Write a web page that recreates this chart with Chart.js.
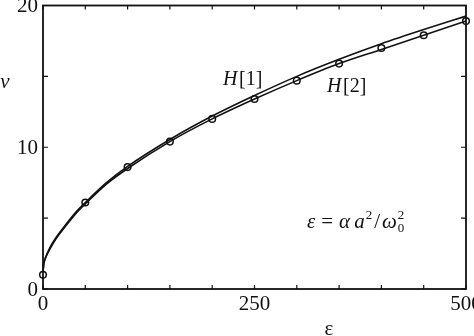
<!DOCTYPE html>
<html>
<head>
<meta charset="utf-8">
<script src="https://cdn.jsdelivr.net/npm/chart.js@4.4.1/dist/chart.umd.min.js"></script>
<style>
  html, body { margin: 0; padding: 0; background: #fff; }
  #wrap { width: 474px; height: 336px; }
</style>
</head>
<body>
<div id="wrap"><canvas id="nuChart" width="474" height="336"></canvas></div>
<script>
// curve H[1] (upper) and H[2] (lower)
var curveEps = [0, 1, 3, 8, 15, 25, 40, 50, 75, 100, 150, 200, 250, 300, 350, 400, 450, 500];
var curveH1 = [1.2, 1.8, 2.2, 2.9, 3.6, 4.4, 5.5, 6.1, 7.5, 8.65, 10.55, 12.2, 13.65, 15.0, 16.2, 17.3, 18.3, 19.25];
var curveH2 = [1.2, 1.8, 2.2, 2.8, 3.5, 4.3, 5.4, 6.0, 7.4, 8.5, 10.4, 12.0, 13.4, 14.7, 15.9, 16.9, 17.9, 18.9];

// circles
var pointEps = [0, 50, 100, 150, 200, 250, 300, 350, 400, 450, 500];
var pointNu = [1.0, 6.1, 8.6, 10.4, 12.0, 13.4, 14.7, 15.9, 17.0, 17.9, 18.9];

// ticks
var xTicks = [0, 50, 100, 150, 200, 250, 300, 350, 400, 450, 500];
var xLabels = [0, 250, 500];
var yTicks = [0, 5, 10, 15, 20];
var yLabels = [0, 10, 20];

function pairs(xs, ys) {
    return xs.map((x, i) => ({ x: x, y: ys[i] }));
}

var serif = '"Liberation Serif", "DejaVu Serif", serif';

var framePlugin = {
    id: 'frame',
    afterDraw: function (chart) {
        var ctx = chart.ctx;
        var a = chart.chartArea;
        var xs = chart.scales.x;
        var ys = chart.scales.y;
        ctx.save();
        ctx.strokeStyle = '#111';
        ctx.lineWidth = 1.8;
        ctx.strokeRect(a.left, a.top, a.right - a.left, a.bottom - a.top);

        // inward ticks
        ctx.lineWidth = 1.2;
        ctx.beginPath();
        xTicks.forEach(function (v) {
            var px = xs.getPixelForValue(v);
            ctx.moveTo(px, a.bottom); ctx.lineTo(px, a.bottom - 4);
            ctx.moveTo(px, a.top); ctx.lineTo(px, a.top + 4);
        });
        yTicks.forEach(function (v) {
            var py = ys.getPixelForValue(v);
            ctx.moveTo(a.left, py); ctx.lineTo(a.left + 5, py);
            ctx.moveTo(a.right, py); ctx.lineTo(a.right - 5, py);
        });
        ctx.stroke();

        // tick labels
        ctx.fillStyle = '#111';
        ctx.font = '21px ' + serif;
        ctx.textAlign = 'center';
        ctx.textBaseline = 'top';
        xLabels.forEach(function (v) {
            ctx.fillText(String(v), xs.getPixelForValue(v), a.bottom + 5);
        });
        ctx.textAlign = 'right';
        ctx.textBaseline = 'middle';
        yLabels.forEach(function (v) {
            ctx.fillText(String(v), a.left - 5, ys.getPixelForValue(v) + 1);
        });

        // axis titles
        ctx.textAlign = 'center';
        ctx.font = 'italic 21px ' + serif;
        ctx.fillText('\u03BD', 5, 82);
        ctx.font = '21px ' + serif;
        ctx.fillText('\u03B5', 329, 329);

        // curve labels
        ctx.textAlign = 'left';
        ctx.textBaseline = 'alphabetic';
        ctx.font = 'italic 20px ' + serif;
        ctx.fillText('H', 223, 85);
        ctx.fillText('H', 327, 92);
        ctx.font = '20px ' + serif;
        ctx.fillText('[1]', 239, 85);
        ctx.fillText('[2]', 343, 92);

        // formula
        var x = 307, y = 228;
        function put(txt, font, dx, dy) {
            ctx.font = font;
            ctx.fillText(txt, x, y + (dy || 0));
            x += ctx.measureText(txt).width + (dx || 0);
        }
        var it = 'italic 21px ' + serif, rm = '21px ' + serif, sm = '13px ' + serif;
        put('\u03B5', it, 6);
        put('=', rm, 6);
        put('\u03B1', it, 4);
        put('a', it, 1);
        put('2', sm, 2, -9);
        put('/', rm, 2);
        put('\u03C9', it, 1);
        ctx.font = sm;
        ctx.fillText('2', x, y - 9);
        ctx.fillText('0', x, y + 4);
        ctx.restore();
    }
};

var ctx = document.getElementById('nuChart').getContext('2d');

var myChart = new Chart(ctx, {
    type: 'scatter',
    data: {
        datasets: [
            {
                label: 'H[1]',
                data: pairs(curveEps, curveH1),
                showLine: true,
                borderColor: '#111',
                borderWidth: 1.6,
                pointRadius: 0,
                cubicInterpolationMode: 'monotone'
            },
            {
                label: 'H[2]',
                data: pairs(curveEps, curveH2),
                showLine: true,
                borderColor: '#111',
                borderWidth: 1.6,
                pointRadius: 0,
                cubicInterpolationMode: 'monotone'
            },
            {
                label: 'points',
                data: pairs(pointEps, pointNu),
                showLine: false,
                pointRadius: 3.3,
                pointBorderWidth: 1.5,
                pointBorderColor: '#111',
                pointBackgroundColor: '#fff'
            }
        ]
    },
    options: {
        responsive: false,
        animation: false,
        clip: false,
        layout: {
            padding: { left: 43, right: 8, top: 5, bottom: 47 }
        },
        plugins: {
            legend: { display: false },
            tooltip: { enabled: false }
        },
        scales: {
            x: {
                type: 'linear',
                min: 0,
                max: 500,
                ticks: { display: false },
                grid: { display: false },
                border: { display: false },
                afterFit: function (scale) { scale.height = 0; }
            },
            y: {
                type: 'linear',
                min: 0,
                max: 20,
                ticks: { display: false },
                grid: { display: false },
                border: { display: false },
                afterFit: function (scale) { scale.width = 0; }
            }
        }
    },
    plugins: [framePlugin]
});
</script>
</body>
</html>
